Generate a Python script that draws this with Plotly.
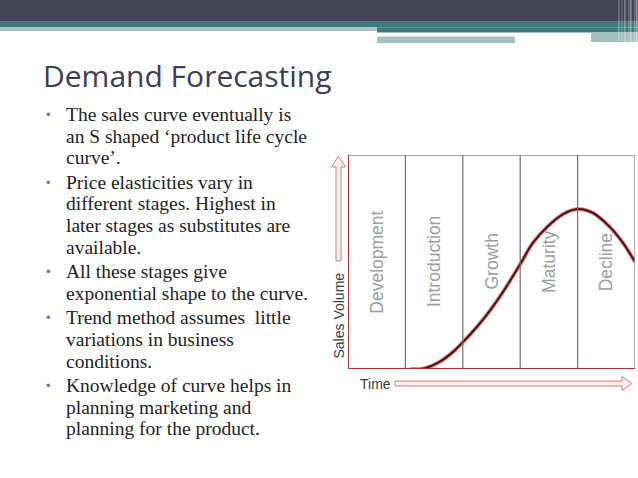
import plotly.graph_objects as go

W, H = 638, 478

# ---- data ----
stages = ["Development", "Introduction", "Growth", "Maturity", "Decline"]
curve_x = [1.08, 1.34, 1.60, 1.83, 2.0, 2.24, 2.47, 2.70, 3.0, 3.22, 3.47, 3.75, 4.0, 4.27, 4.56, 4.79, 5.0]
curve_y = [0.0, 0.004, 0.034, 0.08, 0.125, 0.195, 0.272, 0.36, 0.49, 0.589, 0.664, 0.724, 0.748, 0.729, 0.664, 0.589, 0.50]

title_text = "Demand Forecasting"
bullets = [
    ["The sales curve eventually is", "an S shaped \u2018product life cycle", "curve\u2019."],
    ["Price elasticities vary in", "different stages. Highest in", "later stages as substitutes are", "available."],
    ["All these stages give", "exponential shape to the curve."],
    ["Trend method assumes  little", "variations in business", "conditions."],
    ["Knowledge of curve helps in", "planning marketing and", "planning for the product."],
]
y_label = "Sales Volume"
x_label = "Time"


def px(x):
    return x / W


def py(y):
    return 1 - y / H


fig = go.Figure()

# halo + curve
fig.add_trace(go.Scatter(x=curve_x, y=curve_y, mode="lines",
                         line=dict(color="rgba(200,40,40,0.55)", width=4, shape="spline", smoothing=1.0),
                         hoverinfo="skip", showlegend=False))
fig.add_trace(go.Scatter(x=curve_x, y=curve_y, mode="lines",
                         line=dict(color="#4e1010", width=2, shape="spline", smoothing=1.0),
                         hoverinfo="skip", showlegend=False))

shapes = []


def rect(x0, y0, x1, y1, color, opacity=1.0):
    shapes.append(dict(type="rect", xref="paper", yref="paper",
                       x0=px(x0), x1=px(x1), y0=py(y1), y1=py(y0),
                       fillcolor=color, line=dict(width=0), opacity=opacity, layer="below"))


# header bands
rect(0, 0, 638, 21.7, "#434457")
rect(0, 21.7, 638, 27.3, "#3f7b7e")
rect(377, 27.3, 638, 32.5, "#3f7b7e")
rect(0, 27.3, 377, 31, "#a5c0c3")
rect(377, 36.5, 515, 43, "#a5c0c3")
rect(591, 32.5, 638, 42, "#a5c0c3")
for sx, op in [(618, 0.25), (621, 0.15), (624, 0.3), (628, 0.2), (630, 0.35), (634, 0.25), (636, 0.4)]:
    rect(sx, 0, sx + 1.6, 42, "#ffffff", op)

# chart frame
shapes.append(dict(type="rect", xref="x", yref="y", x0=0, x1=5, y0=0, y1=1,
                   line=dict(color="#8a8a8a", width=1.3)))
for i in range(1, 5):
    shapes.append(dict(type="line", xref="x", yref="y", x0=i, x1=i, y0=0, y1=1,
                       line=dict(color="#6f6f6f", width=1.2)))
shapes.append(dict(type="line", xref="x", yref="y", x0=0, x1=0, y0=0, y1=1,
                   line=dict(color="#b03030", width=2)))
shapes.append(dict(type="line", xref="x", yref="y", x0=0, x1=5, y0=0, y1=0,
                   line=dict(color="#b03030", width=2)))


# hollow arrows (decoration)
def path(points):
    return "M " + " L ".join(f"{px(a):.5f},{py(b):.5f}" for a, b in points) + " Z"


up_arrow = [(336, 261), (341, 261), (341, 167), (345.5, 167), (338.5, 156), (331.5, 167), (336, 167)]
shapes.append(dict(type="path", xref="paper", yref="paper", path=path(up_arrow),
                   fillcolor="#fbeeee", line=dict(color="#c98080", width=1)))
right_arrow = [(395, 381), (622, 381), (622, 376.5), (632, 383.5), (622, 390.5), (622, 386), (395, 386)]
shapes.append(dict(type="path", xref="paper", yref="paper", path=path(right_arrow),
                   fillcolor="#fbeeee", line=dict(color="#c98080", width=1)))

annotations = []
# stage labels
for i, s in enumerate(stages):
    annotations.append(dict(x=i + 0.5, y=0.5, xref="x", yref="y", text=s, showarrow=False,
                            textangle=-90, font=dict(family="Liberation Sans, Arial", size=17.5, color="#9c9c9c"),
                            xanchor="center", yanchor="middle"))
annotations.append(dict(x=px(338.5), y=py(316), xref="paper", yref="paper", text=y_label, showarrow=False,
                        textangle=-90, font=dict(family="Liberation Sans, Arial", size=14, color="#3a3a3a"),
                        xanchor="center", yanchor="middle"))
annotations.append(dict(x=px(358), y=py(383.5), xref="paper", yref="paper", text=x_label, showarrow=False,
                        font=dict(family="Liberation Sans, Arial", size=14, color="#3a3a3a"),
                        xanchor="left", yanchor="middle"))

# title
annotations.append(dict(x=px(41), y=py(75), xref="paper", yref="paper", text=title_text, showarrow=False,
                        font=dict(family="Open Sans", size=30, color="#3d3e54"),
                        xanchor="left", yanchor="middle"))

# bullet text
ycur = 114.5
for bi, lines in enumerate(bullets):
    if bi > 0:
        ycur += 3
    annotations.append(dict(x=px(48), y=py(ycur), xref="paper", yref="paper", text="\u2022", showarrow=False,
                            font=dict(family="Liberation Sans", size=13, color="#9b5ba9"),
                            xanchor="center", yanchor="middle"))
    for line in lines:
        annotations.append(dict(x=px(64), y=py(ycur), xref="paper", yref="paper", text=line, showarrow=False,
                                font=dict(family="Liberation Serif", size=19.5, color="#1e1e1e"),
                                xanchor="left", yanchor="middle"))
        ycur += 21.6

fig.update_layout(
    width=W, height=H,
    margin=dict(l=0, r=0, t=0, b=0),
    paper_bgcolor="white", plot_bgcolor="white",
    shapes=shapes, annotations=annotations,
    xaxis=dict(domain=[px(348), px(635)], range=[0, 5], showgrid=False, zeroline=False,
               showticklabels=False, ticks="", showline=False, fixedrange=True),
    yaxis=dict(domain=[py(369), py(155)], range=[0, 1], showgrid=False, zeroline=False,
               showticklabels=False, ticks="", showline=False, fixedrange=True),
    showlegend=False,
)

fig.write_html("out.html", config={"displayModeBar": False},
               post_script="document.body.style.margin='0px';document.body.style.overflow='hidden';")
